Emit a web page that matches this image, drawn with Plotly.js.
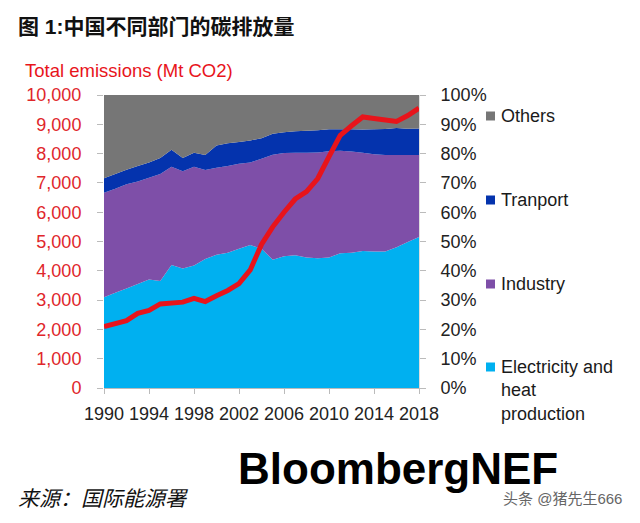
<!DOCTYPE html>
<html>
<head>
<meta charset="utf-8">
<script src="https://cdn.plot.ly/plotly-3.0.1.min.js"></script>
<style>
  html, body { margin: 0; padding: 0; background: #fff; }
  #chart { width: 640px; height: 523px; }
</style>
</head>
<body>
<div id="chart"></div>
<script>
// ---- data ----
const years = [1990,1991,1992,1993,1994,1995,1996,1997,1998,1999,2000,2001,2002,2003,2004,
               2005,2006,2007,2008,2009,2010,2011,2012,2013,2014,2015,2016,2017,2018];
// sector shares of total emissions, %
const electricityShare = [31,32.5,34,35.5,37,36.5,42,40.8,41.8,44,45.5,46.2,47.5,48.8,47.5,
                          43.8,45,45.3,44.5,44.3,44.5,46,46.2,46.8,46.6,46.6,48,49.8,51.5];
const industryShare = [35.6,35.5,35.5,35,34.8,36.5,33.5,33.2,33.7,30.4,29.7,29.6,29,28.2,30.7,
                       35.8,35.2,35,35.8,36.1,36.3,35,34.5,33.5,33.2,32.9,31.5,29.7,28];
const transportShare = [5,5,5,5.3,5.2,5.5,5.8,4.5,4.8,5.1,7.6,7.7,7.5,7.5,7,
                        7.2,7.1,7.3,7.5,7.6,7.5,7.3,7.6,7.9,8.5,8.9,9.2,9,9.1];
const othersShare = [28.4,27,25.5,24.2,23,21.5,18.7,21.5,19.7,20.5,17.2,16.5,16,15.5,14.8,
                     13.2,12.7,12.4,12.2,12,11.7,11.7,11.7,11.8,11.7,11.6,11.3,11.5,11.4];
// total emissions, Mt CO2
const totalEmissions = [2100,2200,2300,2550,2650,2870,2900,2930,3060,2950,3150,3330,3560,4030,4900,
                        5500,6000,6450,6700,7150,7900,8620,8950,9250,9200,9150,9100,9300,9550];
const xTickVals = [1990,1994,1998,2002,2006,2010,2014,2018];
const seriesNames = ["Electricity and heat production","Industry","Tranport","Others"];
const legendLabels = ["Electricity and<br>heat<br>production","Industry","Tranport","Others"];

// ---- styling ----
const colors = ["#00B0F0","#7E4FA8","#0433AD","#767676"];
const red = "#E8141B";
const FONT = "Liberation Sans, Arial, Noto Sans CJK SC, sans-serif";
const CJK = "Liberation Sans, Noto Sans CJK SC, sans-serif";

const shares = [electricityShare, industryShare, transportShare, othersShare];
const traces = shares.map((s, i) => ({
  type: "scatter", x: years, y: s, name: seriesNames[i],
  stackgroup: "one", mode: "none", fillcolor: colors[i],
  line: {width: 0}, yaxis: "y", hoverinfo: "skip", showlegend: false
}));
traces.push({
  type: "scatter", x: years, y: totalEmissions, name: "Total emissions",
  mode: "lines", line: {color: red, width: 5}, yaxis: "y2", showlegend: false
});

const L = 104, R = 419, T = 95, B = 388;
const px = v => (v - L) / (R - L);
const py = v => (B - v) / (B - T);
const legendY = [367, 284, 200, 116];
const shapes = [];
const annotations = [];
for (let i = 0; i < 4; i++) {
  shapes.push({type: "rect", xref: "paper", yref: "paper",
    x0: px(486), x1: px(495), y0: py(legendY[i] + 4.5), y1: py(legendY[i] - 4.5),
    fillcolor: colors[i], line: {width: 0}});
  annotations.push({xref: "paper", yref: "paper", x: px(499), y: py(legendY[i] - 12),
    xanchor: "left", yanchor: "top", align: "left", showarrow: false,
    text: legendLabels[i], font: {family: FONT, size: 18, color: "#1a1a1a"}});
}
annotations.push({xref: "paper", yref: "paper", x: px(23), y: py(70),
  xanchor: "left", yanchor: "middle", showarrow: false,
  text: "Total emissions (Mt CO2)", font: {family: FONT, size: 18.5, color: red}});
annotations.push({xref: "paper", yref: "paper", x: px(398), y: py(468),
  xanchor: "center", yanchor: "middle", showarrow: false,
  text: "<b>BloombergNEF</b>", font: {family: FONT, size: 44, color: "#000"}});
annotations.push({xref: "paper", yref: "paper", x: px(16), y: py(498),
  xanchor: "left", yanchor: "middle", showarrow: false,
  text: "<i>来源：国际能源署</i>", font: {family: CJK, size: 21, color: "#111"}});
annotations.push({xref: "paper", yref: "paper", x: px(624), y: py(498),
  xanchor: "right", yanchor: "middle", showarrow: false,
  text: "头条 @猪先生666", font: {family: CJK, size: 15, color: "#666"}});

const layout = {
  width: 640, height: 523,
  margin: {l: L, r: 640 - R, t: T, b: 523 - B, pad: 0},
  paper_bgcolor: "#fff", plot_bgcolor: "#fff",
  showlegend: false,
  title: {text: "<b>图 1:中国不同部门的碳排放量</b>", xref: "container", yref: "container",
          x: 18/640, xanchor: "left", y: 1 - 27/523, yanchor: "middle",
          font: {family: CJK, size: 21, color: "#111"}},
  xaxis: {range: [1990, 2018], tickvals: xTickVals, ticks: "outside", ticklen: 5,
          tickcolor: "#bbb", showline: true, linecolor: "#bbb", showgrid: false, zeroline: false,
          tickfont: {family: FONT, size: 18, color: "#222"}, ticklabelstandoff: 4},
  yaxis: {side: "right", range: [0, 100], dtick: 10, ticksuffix: "%", ticks: "outside",
          ticklen: 6, tickcolor: "#bbb", showline: true, linecolor: "#ddd", showgrid: false,
          zeroline: false, tickfont: {family: FONT, size: 18, color: "#222"},
          ticklabelstandoff: 11},
  yaxis2: {overlaying: "y", side: "left", range: [0, 10000], dtick: 1000, tickformat: ",d",
           ticks: "outside", ticklen: 6, tickcolor: "#bbb", showline: false, showgrid: false,
           zeroline: false, tickfont: {family: FONT, size: 18, color: "#E0262B"},
           ticklabelstandoff: 12},
  shapes: shapes,
  annotations: annotations
};

Plotly.newPlot("chart", traces, layout, {displayModeBar: false, staticPlot: true});
</script>
</body>
</html>
